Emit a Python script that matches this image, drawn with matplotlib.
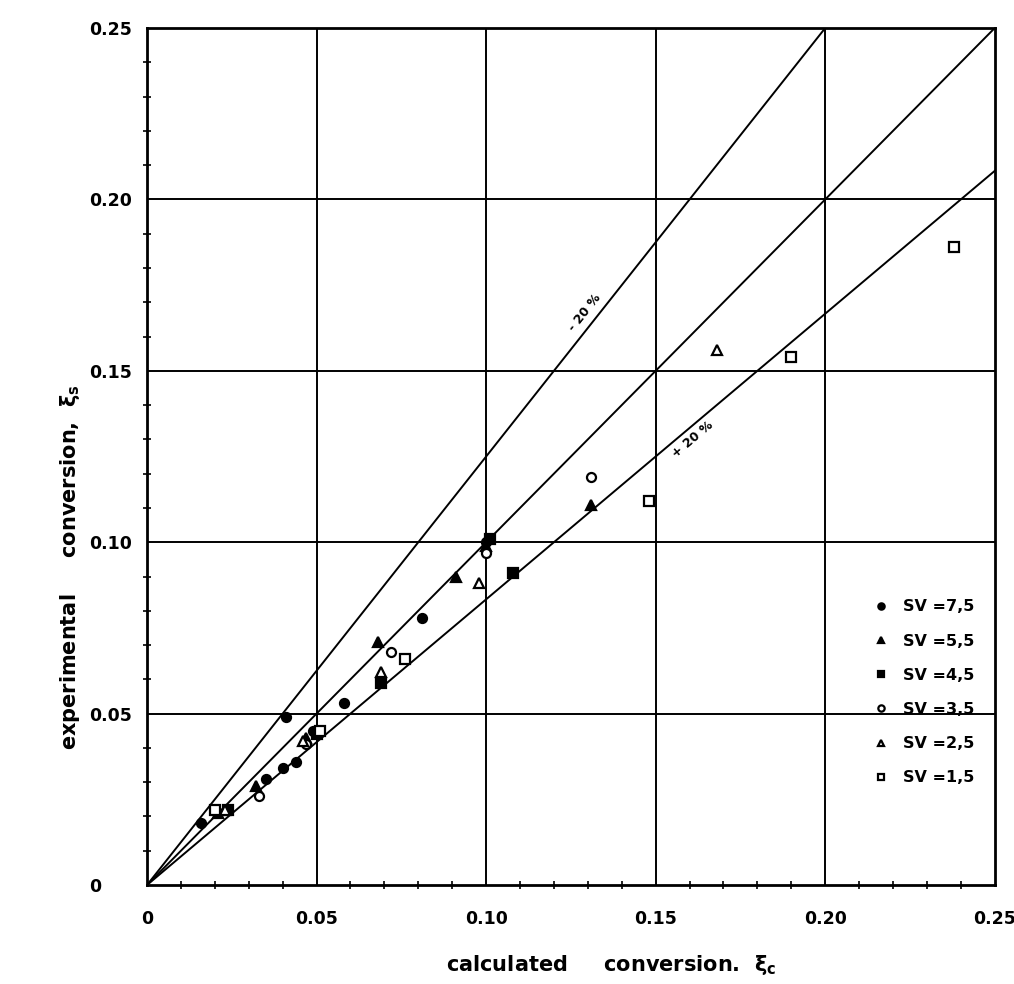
import matplotlib
matplotlib.use("Agg")
import matplotlib.pyplot as plt
import numpy as np
from matplotlib.ticker import MultipleLocator


# Data: (calculated, experimental) conversion per space velocity
sv_labels = ["SV =7,5", "SV =5,5", "SV =4,5", "SV =3,5", "SV =2,5", "SV =1,5"]

sv75_x = [0.016, 0.035, 0.040, 0.044, 0.041, 0.058, 0.081, 0.100, 0.049]
sv75_y = [0.018, 0.031, 0.034, 0.036, 0.049, 0.053, 0.078, 0.100, 0.045]

sv55_x = [0.021, 0.032, 0.047, 0.068, 0.091, 0.100, 0.131]
sv55_y = [0.021, 0.029, 0.043, 0.071, 0.090, 0.099, 0.111]

sv45_x = [0.024, 0.050, 0.069, 0.101, 0.108]
sv45_y = [0.022, 0.044, 0.059, 0.101, 0.091]

sv35_x = [0.033, 0.047, 0.072, 0.100, 0.131]
sv35_y = [0.026, 0.041, 0.068, 0.097, 0.119]

sv25_x = [0.023, 0.046, 0.069, 0.098, 0.168]
sv25_y = [0.022, 0.042, 0.062, 0.088, 0.156]

sv15_x = [0.020, 0.051, 0.076, 0.148, 0.190, 0.238]
sv15_y = [0.022, 0.045, 0.066, 0.112, 0.154, 0.186]

# reference lines: perfect agreement and +/- 20 %
line_slopes = [1.0, 1.25, 1 / 1.2]

tick_values = [0, 0.05, 0.10, 0.15, 0.20, 0.25]
x_tick_labels = ["0", "0.05", "0.10", "0.15", "0.20", "0.25"]
y_tick_labels = ["0", "0.05", "0.10", "0.15", "0.20", "0.25"]


def main() -> None:
    fig = plt.figure(figsize=(10.14, 9.84), dpi=100)
    ax = fig.add_axes([0.145, 0.1006, 0.836, 0.8709])

    # grid and reference lines
    for v in tick_values[1:-1]:
        ax.axhline(v, color="black", linewidth=1.4, zorder=1)
        ax.axvline(v, color="black", linewidth=1.4, zorder=1)

    xs = np.array([0, 0.25])
    for s in line_slopes:
        ax.plot(xs, s * xs, color="black", linewidth=1.4, zorder=2)

    # the data series
    series = [
        (sv75_x, sv75_y, "o", "black"),
        (sv55_x, sv55_y, "^", "black"),
        (sv45_x, sv45_y, "s", "black"),
        (sv35_x, sv35_y, "o", "white"),
        (sv25_x, sv25_y, "^", "white"),
        (sv15_x, sv15_y, "s", "white"),
    ]
    for (x, y, m, fc), lab in zip(series, sv_labels):
        ax.plot(x, y, linestyle="none", marker=m, markersize=6.5,
                markerfacecolor=fc, markeredgecolor="black",
                markeredgewidth=1.6, label=lab, zorder=3)

    # line annotations
    ax.text(0.129, 0.167, "- 20 %", rotation=51.6, ha="center", va="center",
            fontsize=9, fontweight="bold")
    ax.text(0.161, 0.130, "+ 20 %", rotation=40, ha="center", va="center",
            fontsize=9, fontweight="bold")

    ax.set_xlim(0, 0.25)
    ax.set_ylim(0, 0.25)

    ax.set_xticks(tick_values)
    ax.set_xticklabels(x_tick_labels)
    ax.set_yticks(tick_values)
    ax.set_yticklabels(y_tick_labels)
    ax.xaxis.set_minor_locator(MultipleLocator(0.01))
    ax.yaxis.set_minor_locator(MultipleLocator(0.01))
    ax.tick_params(which="major", length=0, pad=18, labelsize=12.5)
    ax.tick_params(which="minor", direction="inout", length=6, width=1.2)
    for lbl in ax.get_xticklabels() + ax.get_yticklabels():
        lbl.set_fontweight("bold")
    for lbl in ax.get_yticklabels():
        lbl.set_horizontalalignment("left")
    ax.tick_params(axis="y", which="major", pad=42)

    for sp in ax.spines.values():
        sp.set_linewidth(2.0)

    ax.set_xlabel(r"calculated     conversion.  $\mathbf{\xi_c}$", fontsize=15,
                  fontweight="bold", va="center")
    ax.xaxis.set_label_coords(0.548, -0.093)
    ax.set_ylabel(r"experimental     conversion,  $\mathbf{\xi_s}$", fontsize=15,
                  fontweight="bold", va="center")
    ax.yaxis.set_label_coords(-0.091, 0.371)

    ax.legend(loc="upper left", bbox_to_anchor=(0.83, 0.35), frameon=False,
              prop={"weight": "bold", "size": 11.5},
              labelspacing=1.2, handletextpad=0.4, markerscale=0.7)

    fig.savefig("out.png", dpi=100)


if __name__ == "__main__":
    main()
